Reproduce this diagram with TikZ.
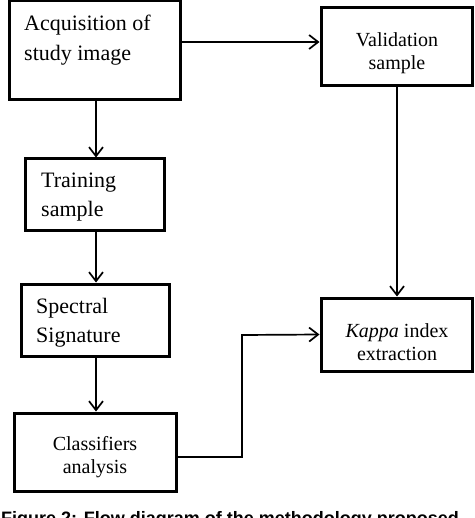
\documentclass[tikz,border=0pt]{standalone}
\usepackage{fontspec}
\setmainfont{Liberation Serif}
\setsansfont{Liberation Sans}
\usetikzlibrary{arrows.meta}
\begin{document}
\begin{tikzpicture}[x=1pt,y=-1pt,
  box/.style={draw,line width=3pt,inner sep=0pt,rectangle},
  big/.style={font=\fontsize{22}{26}\selectfont,inner sep=0pt},
  small/.style={font=\fontsize{20}{24}\selectfont,inner sep=0pt},
  arr/.style={line width=1.7pt,-{Straight Barb[length=9pt,width=14pt,line width=1.7pt]}}]
\useasboundingbox (0,0) rectangle (474,518);
\clip (0,0) rectangle (474,518);
% boxes
\node[box,minimum width=171pt,minimum height=99pt] (acq) at (94.5,50.5) {};
\node[box,minimum width=151pt,minimum height=78pt] (val) at (396.5,47) {};
\node[box,minimum width=139pt,minimum height=71pt] (train) at (94.5,194.5) {};
\node[box,minimum width=148pt,minimum height=72pt] (spec) at (95,320) {};
\node[box,minimum width=162pt,minimum height=78pt] (cls) at (95,452) {};
\node[box,minimum width=151pt,minimum height=73pt] (kap) at (396.5,334.5) {};
% texts
\node[big,anchor=base west] (acqa) at (24,31) {Acquisition of};
\node[big,anchor=base west] (acqb) at (24,61) {study image};
\node[small,anchor=base] (vala) at (397,47) {Validation};
\node[small,anchor=base] (valb) at (397,70) {sample};
\node[big,anchor=base west] (traina) at (41,188) {Training};
\node[big,anchor=base west] (trainb) at (41,217) {sample};
\node[big,anchor=base west] (speca) at (36,313) {Spectral};
\node[big,anchor=base west] (specb) at (36,342) {Signature};
\node[small,anchor=base] (clsa) at (95,450) {Classifiers};
\node[small,anchor=base] (clsb) at (95,473) {analysis};
\node[small,anchor=base] (kapa) at (397,337) {\textit{Kappa} index};
\node[small,anchor=base] (kapb) at (397,360) {extraction};
% caption (cut off at the lower edge, as in the reference)
\node[anchor=base west,inner sep=0pt,font=\fontsize{18}{20}\selectfont\sffamily\bfseries] (cap) at (1,524) {Figure 2: Flow diagram of the methodology proposed};
% connectors
\draw[arr] (acq.east |- 0,42) -- (val.west |- 0,42);
\draw[arr] (acq.south -| 96,0) -- (train.north -| 96,0);
\draw[arr] (train.south -| 96,0) -- (spec.north -| 96,0);
\draw[arr] (spec.south -| 96,0) -- (cls.north -| 96,0);
\draw[arr] (val.south -| 397,0) -- (kap.north -| 397,0);
\draw[arr] (cls.east |- 0,457) -| (242,335) -- (kap.west);
\end{tikzpicture}
\end{document}
